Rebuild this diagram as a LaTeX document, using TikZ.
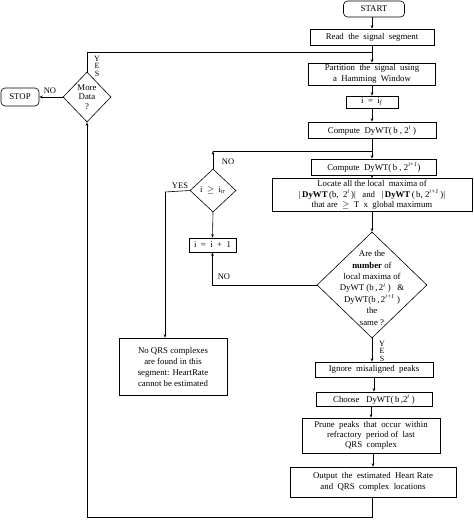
\documentclass[tikz,border=0pt]{standalone}
\usepackage{fontspec}
\setmainfont{Liberation Serif}
\usetikzlibrary{shapes.geometric,arrows.meta}
\newcommand{\sui}{\textsuperscript{\textit{i}}}
\newcommand{\suii}{\textsuperscript{\textit{i+1}}}
\begin{document}
\begin{tikzpicture}[x=1pt,y=-1pt,
  every node/.style={font=\fontsize{8.8}{11}\selectfont, inner sep=0pt},
  box/.style={draw, line width=0.6pt, align=center, inner sep=0pt},
  term/.style={box, rounded corners=4pt},
  dia/.style={draw, diamond, line width=0.6pt, inner sep=0pt, align=center},
  lbl/.style={font=\fontsize{8.5}{9}\selectfont},
  vlbl/.style={font=\fontsize{8}{7.5}\selectfont, align=center},
  arr/.style={-{Stealth[length=3.5pt,width=2.6pt]}, line width=0.6pt},
  ln/.style={line width=0.6pt}]
\useasboundingbox (0,0) rectangle (474,531);

% main column
\node[term, minimum width=61, minimum height=16] (start) at (374,9) {START};
\node[box, minimum width=124, minimum height=16] (read) at (372,37) {Read\ \ the\ \ signal\ \ segment};
\node[box, minimum width=127, minimum height=22] (part) at (372,74) {Partition\ \ the\ \ signal\ \ using\\a\ \ Hamming\ \ Window};
\node[box, minimum width=52, minimum height=12] (iif) at (372,102) {i\ \ =\ \ i\textsubscript{\textit{f}}};
\node[box, minimum width=128, minimum height=16] (comp1) at (372,130) {Compute\ \ DyWT(\,b\ ,\ 2\sui\ )};
\node[box, minimum width=125, minimum height=16] (comp2) at (374,167) {Compute\ \ DyWT(\,b\ ,\ 2\suii)};
\node[box, minimum width=200, minimum height=33, font=\fontsize{8.8}{10.5}\selectfont] (loc) at (372,195)
  {Locate all the local\ \ maxima of\\
   |\,\textbf{DyWT}\,(b,\ \ 2\sui\,)|\ \ \ and\ \ \ |\,\textbf{DyWT}\,(\,b,\ 2\suii\,)|\\
   that\ are\ \ $\geq$\ \ T\ \ x\ \ global\ maximum};
\node[dia, minimum width=110, minimum height=106] (dq) at (372,285) {};
\node[align=center, font=\fontsize{8.8}{11.4}\selectfont] (dqt) at (372,288)
  {Are the\\ \textbf{number} of\\ local maxima of\\ DyWT\ (b\,,\,2\sui\ )\ \ \ \&\\ DyWT(b\,,\,2\suii\ )\\ the\\ same ?};
\node[box, minimum width=118, minimum height=15] (ign) at (374,369.5) {Ignore\ \ misaligned\ \ peaks};
\node[box, minimum width=116, minimum height=14] (cho) at (374,399) {Choose\ \ \ DyWT(\,b\,,2\sui\ )};
\node[box, minimum width=138, minimum height=35, font=\fontsize{8.8}{10}\selectfont] (pru) at (371,435.5)
  {Prune\ \ peaks\ \ that\ \ occur\ \ within\\ refractory\ \ period\ of\ \ last\\ QRS\ \ complex};
\node[box, minimum width=166, minimum height=30] (out) at (373,482)
  {Output\ \ the\ \ estimated\ \ Heart\ Rate\\ and\ \ QRS\ \ complex\ \ locations};

% left branch
\node[dia, minimum width=46, minimum height=43] (dtr) at (213,190.5) {i\ \ $\geq$\ \ i\textsubscript{\textit{tr}}};
\node[box, minimum width=47, minimum height=14] (iinc) at (212.5,245) {i\ \ =\ \ i\ \ +\ \ 1};
\node[box, minimum width=108, minimum height=57] (noq) at (173,366.5)
  {No QRS complexes\\ are found in this\\ segment: HeartRate\\ cannot be estimated};

% more data / stop
\node[dia, minimum width=48, minimum height=50, font=\fontsize{8.8}{9.8}\selectfont] (more) at (87,97) {More\\Data\\?};
\node[term, minimum width=38, minimum height=18] (stop) at (20,97) {STOP};

% helper coordinates
\coordinate (j1) at (372,52);
\coordinate (j2) at (372,151);
\coordinate (c3) at (165,192);
\coordinate (b1) at (372,517);
\coordinate (b2) at (87,517);

% connectors
\draw[arr] (start.south -| read) -- (read);
\draw[arr] (read) -- (part);
\draw[arr] (part) -- (iif);
\draw[arr] (iif) -- (comp1);
\draw[arr] (comp1) -- (comp1 |- comp2.north);
\draw[arr] (dtr.north) -- (dtr.north |- j2);
\draw[ln] (dtr.north |- j2) -- (j2);
\draw[arr] (loc.south -| dq) -- (dq.north);
\draw[arr] (comp2.south -| loc) -- (loc.north);
\draw[arr] (dq.west) -| (iinc.south);
\draw[arr] (dtr.south) -- (iinc.north);
\draw[ln] (dtr.west) -- (c3);
\draw[arr] (c3) -- (c3 |- noq.north);
\draw[arr] (dq.south) -- (dq.south |- ign.north);
\draw[arr] (ign.south -| cho) -- (cho.north);
\draw[arr] (cho.south -| pru) -- (pru.north);
\draw[arr] (pru.south -| out) -- (out.north);
\draw[ln] (out.south -| b1) -- (b1) -- (b2);
\draw[arr] (b2) -- (more.south);
\draw[ln] (more.north) |- (j1);
\draw[arr] (more.west) -- (stop.east);

% labels
\node[lbl] (lno1) at (50,91) {NO};
\node[vlbl] (lyes1) at (97,66) {Y\\E\\S};
\node[lbl] (lno2) at (228,162) {NO};
\node[lbl] (lyes2) at (180,186) {YES};
\node[lbl] (lno3) at (224,277) {NO};
\node[vlbl] (lyes3) at (382,351) {Y\\E\\S};
\end{tikzpicture}
\end{document}
